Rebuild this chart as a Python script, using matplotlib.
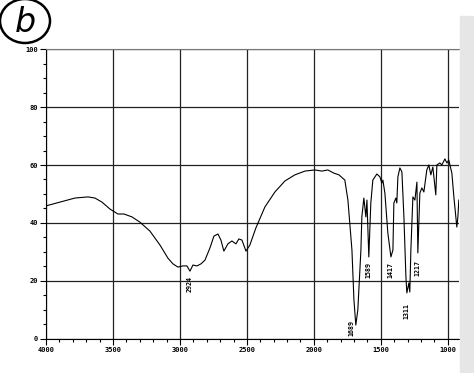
import numpy as np
import matplotlib.pyplot as plt
from matplotlib.patches import Ellipse, Rectangle

# IR spectrum (wavenumber cm-1, %T)
wavenumber = [4000, 3896, 3784, 3687, 3634, 3582, 3522, 3463, 3418, 3358, 3299, 3224,
              3149, 3090, 3052, 3015, 2978, 2948, 2925, 2903, 2873, 2843, 2813, 2776,
              2746, 2716, 2694, 2672, 2642, 2612, 2582, 2560, 2537, 2507, 2478, 2433,
              2366, 2291, 2216, 2142, 2067, 1993, 1940, 1896, 1851, 1813, 1769, 1746,
              1716, 1701, 1687, 1672, 1649, 1642, 1627, 1612, 1604, 1590, 1575, 1560,
              1530, 1507, 1493, 1485, 1470, 1448, 1425, 1410, 1403, 1388, 1381, 1373,
              1358, 1343, 1328, 1313, 1306, 1291, 1284, 1276, 1261, 1246, 1231, 1224,
              1209, 1194, 1179, 1157, 1142, 1127, 1112, 1090, 1082, 1060, 1045, 1022,
              1007, 993, 970, 955, 933, 925, 918]
transmit = [45.9, 47.2, 48.6, 49.0, 48.6, 47.2, 44.8, 43.1, 43.1, 42.1, 40.3, 37.2,
            32.4, 27.9, 25.9, 24.8, 25.2, 25.2, 23.4, 25.5, 25.2, 25.9, 27.2, 31.4,
            35.5, 36.2, 34.1, 30.3, 32.8, 33.8, 32.8, 34.5, 34.1, 30.3, 32.4, 38.3,
            45.5, 50.7, 54.5, 56.6, 57.9, 58.3, 57.9, 58.3, 57.2, 56.6, 54.8, 47.9,
            30.7, 13.4, 4.8, 10.0, 30.7, 42.1, 48.6, 42.1, 47.9, 28.3, 46.9, 54.8,
            56.9, 55.9, 53.8, 54.8, 50.3, 36.6, 28.3, 30.7, 46.9, 48.6, 46.9, 55.9,
            59.0, 57.6, 42.1, 21.4, 15.9, 19.3, 16.2, 30.7, 49.0, 47.9, 54.1, 29.7,
            50.3, 52.1, 50.7, 58.3, 60.0, 56.6, 59.3, 49.7, 60.0, 60.7, 60.0, 62.1,
            60.7, 61.7, 57.2, 49.0, 38.6, 42.1, 47.9]

peak_labels = ["2924", "1689", "1589", "1417", "1311", "1217"]
peak_x = [2924, 1716, 1590, 1425, 1306, 1224]
peak_y = [21.6, 6.5, 26.5, 26.5, 12.4, 27.2]

fig = plt.figure(figsize=(4.74, 3.73), dpi=100)
ax = fig.add_axes([0.097, 0.0912, 0.871, 0.7774])

ax.plot(wavenumber, transmit, color="black", lw=0.8)

ax.set_xlim(4000, 918)
ax.set_ylim(0, 100)
ax.set_xticks([4000, 3500, 3000, 2500, 2000, 1500, 1000])
ax.set_xticks(np.arange(1000, 4001, 100), minor=True)
ax.set_yticks([0, 20, 40, 60, 80, 100])
ax.set_yticks(np.arange(0, 101, 5), minor=True)
ax.grid(True, which="major", color="#222222", lw=0.9)
ax.tick_params(which="major", direction="out", length=4, width=0.8, labelsize=5, pad=2)
ax.tick_params(which="minor", direction="out", length=2.5, width=0.8)
for lab in ax.get_xticklabels() + ax.get_yticklabels():
    lab.set_family("DejaVu Sans Mono")
    lab.set_fontweight("bold")
for s in ["right"]:
    ax.spines[s].set_visible(False)
ax.spines["top"].set_color("#777777")

#peak labels
for t, px, py in zip(peak_labels, peak_x, peak_y):
    ax.text(px, py, t, rotation=90, ha="center", va="top", size=4.8,
            family="DejaVu Sans Mono", fontweight="bold")

# gray scan edge on the right
fig.patches.append(Rectangle((460/474, 0), 14/474, 357/373, transform=fig.transFigure,
                             color="#e6e6e6", zorder=0))

# handwritten (b) mark
fig.patches.append(Ellipse((25/474, 1 - 21/373), 50/474, 44/373, transform=fig.transFigure,
                           fill=False, ec="black", lw=1.8))
fig.text(25/474, 1 - 22/373, "b", ha="center", va="center", size=24, style="italic",
         family="DejaVu Sans")

fig.savefig("out.png", dpi=100)
